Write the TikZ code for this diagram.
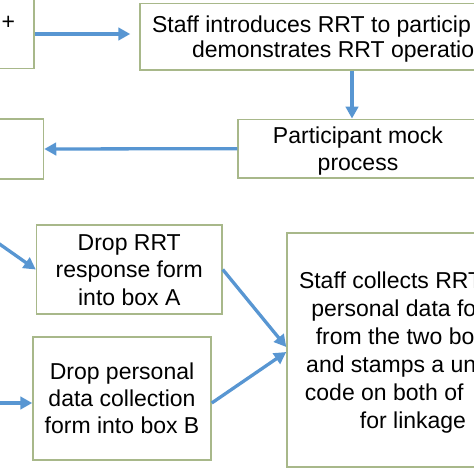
\documentclass[tikz,border=0pt]{standalone}
\usepackage{fontspec}
\setmainfont{Liberation Sans}
\usetikzlibrary{arrows.meta}
\definecolor{boxline}{RGB}{168,184,138}
\definecolor{arrowblue}{RGB}{88,150,210}
\newcommand{\topst}{\rule{0pt}{21pt}}
\newcommand{\botst}{\rule[-5pt]{0pt}{5pt}}
\begin{document}
\begin{tikzpicture}[x=1pt,y=-1pt,
  box/.style={draw=boxline, line width=1.5pt, inner sep=0pt, align=center},
  fs/.style={font=\fontsize{23}{#1}\selectfont},
  flow/.style={draw=arrowblue, line width=3.3pt, -{Triangle[length=12pt,width=12.5pt]}}]
\useasboundingbox (0,0) rectangle (474,474);
\clip (0,0) rectangle (474,474);
% boxes
\node[box, minimum width=84pt, minimum height=88.3pt] (tl) at (-8,24.15) {};
\node[fs=25, anchor=base, inner sep=0pt] (plus) at (8.3,29.7) {+};
\node[box, fs=25, minimum width=399pt, minimum height=66.7pt] (tr) at (339.5,36.65)
  {\makebox[374.8pt][l]{\topst Staff introduces RRT to particip}\\
   demonstrates RRT operatio\botst\makebox[12.8pt]{}};
\node[box, fs=26.7, minimum width=240pt, minimum height=58.7pt] (pm) at (358,148.65)
  {\topst Participant mock\\process\botst};
\node[box, minimum width=93.5pt, minimum height=60pt] (lm) at (-3.25,149) {};
\node[box, fs=27.5, minimum width=185.5pt, minimum height=89pt] (A) at (129.25,269.5)
  {\topst Drop RRT\\response form\\into box A\botst};
\node[box, fs=27.35, minimum width=178pt, minimum height=123pt] (B) at (122,398.5)
  {\topst Drop personal\\data collection\\form into box B\botst};
\node[box, fs=28, minimum width=252pt, minimum height=234pt] (R) at (413,350)
  {\topst Staff collects RRT\phantom{\ and}\\
   personal data fo\phantom{rms}\\
   from the two bo\phantom{xes}\\
   and stamps a un\phantom{ique}\\
   code on both of\phantom{\ them}\\
   for linkage\botst};
% connector helpers
\coordinate (r1) at (0,34);
\coordinate (c2) at (352,0);
\coordinate (inA) at (-20,230.3);
\coordinate (inB) at (-20,403);
% connectors
\draw[flow, shorten >=9pt] (tl.east |- r1) -- (tr.west |- r1);
\draw[flow] (tr.south -| c2) -- (pm.north -| c2);
\draw[flow] (pm.west) -- (lm.east);
\draw[flow] (inA) -- (A.west);
\draw[flow] (inB) -- (inB -| B.west);
\draw[flow] (A.east) -- ([yshift=3pt]R.west);
\draw[flow] ([yshift=-4.5pt]B.east) -- ([yshift=-2pt]R.west);
\end{tikzpicture}
\end{document}
